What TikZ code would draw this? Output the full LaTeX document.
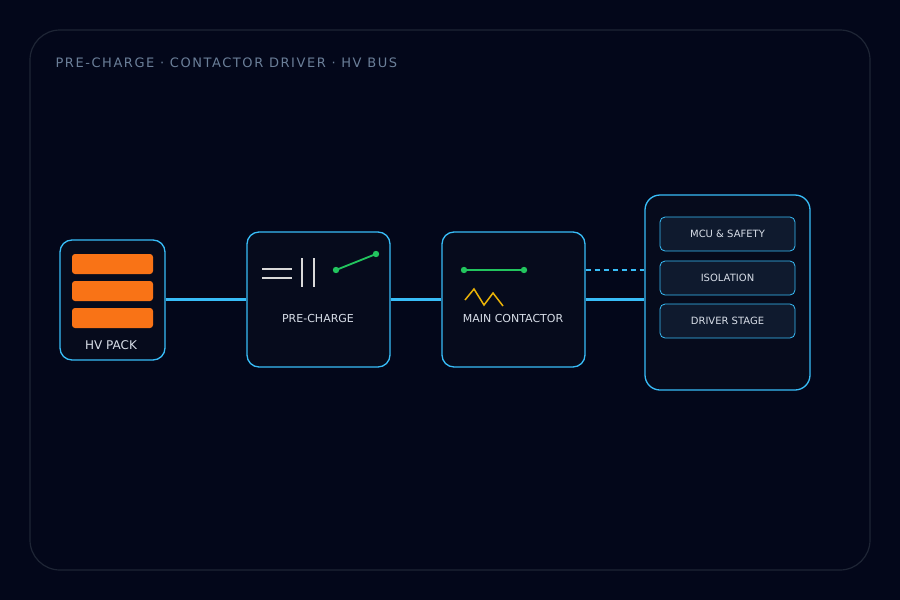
\documentclass[tikz,border=0pt]{standalone}
\usepackage{fontspec}
\setmainfont{DejaVu Sans}
\usetikzlibrary{positioning}
\definecolor{bgdark}{HTML}{03071A}
\definecolor{framegray}{HTML}{1E2535}
\definecolor{titlegray}{HTML}{6B7F99}
\definecolor{busblue}{HTML}{38BDF8}
\definecolor{boxfill}{HTML}{060B1C}
\definecolor{cellfill}{HTML}{0F1A2E}
\definecolor{packorange}{HTML}{F97316}
\definecolor{swgreen}{HTML}{22C55E}
\definecolor{coilyellow}{HTML}{EAB308}
\definecolor{labelgray}{HTML}{D8DEE8}

\begin{document}
\begin{tikzpicture}[
    x=1pt, y=-1pt,
    stage/.style={draw=busblue, line width=1.3pt, fill=boxfill, rounded corners=12pt},
    cell/.style={draw=busblue, line width=0.8pt, fill=cellfill, rounded corners=5pt},
    bar/.style={fill=packorange, rounded corners=3pt},
    label/.style={text=labelgray, font=\fontsize{12}{14}\selectfont},
    small/.style={text=labelgray, font=\fontsize{10}{12}\selectfont},
    bus/.style={busblue, line width=3pt},
    sw/.style={swgreen, line width=1.8pt}
]
% canvas
\fill[bgdark] (0,0) rectangle (900,600);
\draw[framegray, line width=1.2pt, rounded corners=30pt] (30,30) rectangle (870,570);
\node[anchor=west, text=titlegray, font=\fontsize{13}{15}\selectfont\addfontfeature{LetterSpace=12}] (title) at (52,63) {PRE-CHARGE · CONTACTOR DRIVER · HV BUS};

% stages
\node[stage, minimum width=105pt, minimum height=120pt] (pack) at (112.5,300) {};
\node[stage, minimum width=143pt, minimum height=135pt] (pre) at (318.5,299.5) {};
\node[stage, minimum width=143pt, minimum height=135pt] (main) at (513.5,299.5) {};
\node[stage, rounded corners=15pt, minimum width=165pt, minimum height=195pt] (ctrl) at (727.5,292.5) {};

% HV pack
\foreach \y in {264,291,318}
  \fill[bar] (72,\y-10) rectangle (153,\y+10);
\node[label] (packlbl) at (111,345) {HV PACK};

% pre-charge
\draw[white!85!black, line width=1.3pt] (262,269) -- (292,269) (262,278) -- (292,278);
\draw[white!85!black, line width=1.3pt] (302,258) -- (302,287) (314,258) -- (314,287);
\draw[sw] (336,270) -- (376,254);
\fill[swgreen] (336,270) circle (3.2) (376,254) circle (3.2);
\node[small, font=\fontsize{11}{13}\selectfont] (prelbl) at (318,318) {PRE-CHARGE};

% main contactor
\draw[sw] (464,270) -- (524,270);
\fill[swgreen] (464,270) circle (3.2) (524,270) circle (3.2);
\draw[coilyellow, line width=1.5pt] (465,300) -- (474,289) -- (484,305) -- (493,293) -- (503,306);
\node[small, font=\fontsize{11}{13}\selectfont] (mainlbl) at (513,318) {MAIN CONTACTOR};

% controller cells
\node[cell, minimum width=135pt, minimum height=34pt] (mcu) at (727.5,234) {};
\node[small] at (mcu) {MCU \& SAFETY};
\node[cell, minimum width=135pt, minimum height=34pt] (iso) at (727.5,278) {};
\node[small] at (iso) {ISOLATION};
\node[cell, minimum width=135pt, minimum height=34pt] (drv) at (727.5,321) {};
\node[small] at (drv) {DRIVER STAGE};

% bus
\draw[bus] (pack.east |- 0,299) -- (pre.west |- 0,299);
\draw[bus] (pre.east |- 0,299) -- (main.west |- 0,299);
\draw[bus] (main.east |- 0,299) -- (ctrl.west |- 0,299);
\draw[busblue, line width=1.5pt, dash pattern=on 5pt off 4pt] (main.east |- 0,270) -- (ctrl.west |- 0,270);
\end{tikzpicture}
\end{document}
